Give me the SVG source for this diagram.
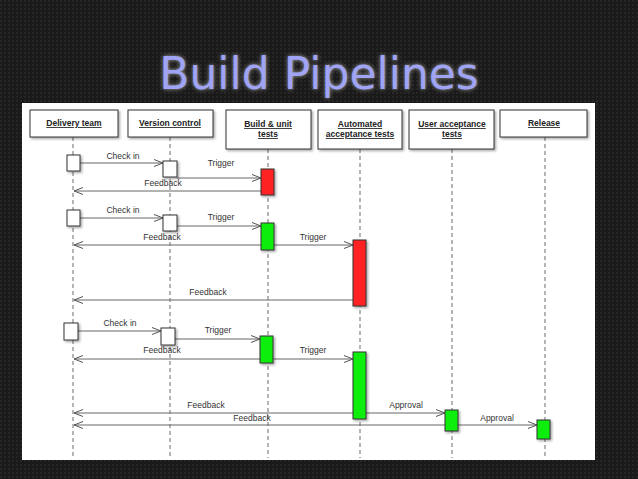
<svg xmlns="http://www.w3.org/2000/svg" width="638" height="479" viewBox="0 0 638 479">
<defs>
<pattern id="bg" width="4" height="4" patternUnits="userSpaceOnUse"><rect width="4" height="4" fill="#1a1a1a"/><rect width="2" height="2" fill="#262626"/></pattern>
<marker id="ar" markerWidth="10" markerHeight="8" refX="9" refY="4" orient="auto" markerUnits="userSpaceOnUse"><path d="M0,0.5 L9,4 L0,7.5" fill="none" stroke="#555" stroke-width="1"/></marker>
<filter id="glow"><feGaussianBlur stdDeviation="2"/></filter>
<filter id="sh" x="-20%" y="-20%" width="150%" height="150%"><feDropShadow dx="1.5" dy="1.5" stdDeviation="1" flood-color="#000" flood-opacity="0.35"/></filter>
</defs>
<style>
.hd{fill:#fff;stroke:#333;stroke-width:1;filter:url(#sh)}
.ht{font-family:"Liberation Sans",Arial,sans-serif;font-size:8.5px;font-weight:bold;text-decoration:underline;fill:#222;text-anchor:middle}
.ll{stroke:#444;stroke-width:0.8;stroke-dasharray:4,3}
.m{stroke:#666;stroke-width:1;fill:none;marker-end:url(#ar)}
.l{font-family:"Liberation Sans",Arial,sans-serif;font-size:8.5px;fill:#333;text-anchor:middle}
.w{fill:#fff;stroke:#333;stroke-width:1;filter:url(#sh)}
.r{fill:#f22;stroke:#333;stroke-width:1;filter:url(#sh)}
.g{fill:#1e1;stroke:#333;stroke-width:1;filter:url(#sh)}
</style>
<rect width="638" height="479" fill="url(#bg)"/>
<text x="319" y="89" font-family="DejaVu Sans,sans-serif" font-size="44" fill="#ffffff" text-anchor="middle" filter="url(#glow)" opacity="0.6">Build Pipelines</text>
<text x="319" y="89" font-family="DejaVu Sans,sans-serif" font-size="44" fill="#a0a4f4" text-anchor="middle">Build Pipelines</text>
<rect x="22" y="103" width="573" height="357" fill="#fff"/>
<g id="lifelines">
<line class="ll" x1="73" y1="137" x2="73" y2="458"/>
<line class="ll" x1="170" y1="137" x2="170" y2="458"/>
<line class="ll" x1="268" y1="149" x2="268" y2="458"/>
<line class="ll" x1="360" y1="149" x2="360" y2="458"/>
<line class="ll" x1="452" y1="149" x2="452" y2="458"/>
<line class="ll" x1="545" y1="137" x2="545" y2="458"/>
</g>
<g id="delivery"><rect class="hd" x="30" y="110" width="88" height="27"/><text class="ht" x="74" y="126">Delivery team</text></g>
<g id="version"><rect class="hd" x="128" y="110" width="85" height="27"/><text class="ht" x="170" y="126">Version control</text></g>
<g id="build"><rect class="hd" x="226" y="110" width="85" height="39"/><text class="ht" x="268" y="127">Build &amp; unit</text><text class="ht" x="268" y="137">tests</text></g>
<g id="automated"><rect class="hd" x="318" y="110" width="84" height="39"/><text class="ht" x="360" y="127">Automated</text><text class="ht" x="360" y="137">acceptance tests</text></g>
<g id="uat"><rect class="hd" x="409" y="110" width="85" height="39"/><text class="ht" x="452" y="127">User acceptance</text><text class="ht" x="452" y="137">tests</text></g>
<g id="release"><rect class="hd" x="500" y="110" width="87" height="27"/><text class="ht" x="544" y="126">Release</text></g>
<g id="connectors">
<line class="m" x1="80" y1="163" x2="163" y2="163"/>
<line class="m" x1="177" y1="178" x2="261" y2="178"/>
<line class="m" x1="261" y1="191" x2="74" y2="191"/>
<line class="m" x1="80" y1="218" x2="163" y2="218"/>
<line class="m" x1="177" y1="226" x2="261" y2="226"/>
<line class="m" x1="261" y1="245" x2="74" y2="245"/>
<line class="m" x1="274" y1="245" x2="353" y2="245"/>
<line class="m" x1="353" y1="300" x2="74" y2="300"/>
<line class="m" x1="78" y1="331" x2="161" y2="331"/>
<line class="m" x1="175" y1="339" x2="260" y2="339"/>
<line class="m" x1="260" y1="359" x2="74" y2="359"/>
<line class="m" x1="273" y1="359" x2="353" y2="359"/>
<line class="m" x1="353" y1="413" x2="74" y2="413"/>
<line class="m" x1="366" y1="413" x2="445" y2="413"/>
<line class="m" x1="445" y1="425" x2="74" y2="425"/>
<line class="m" x1="458" y1="425" x2="537" y2="425"/>
</g>
<g id="labels">
<text class="l" x="123" y="159">Check in</text>
<text class="l" x="221" y="166">Trigger</text>
<text class="l" x="163" y="186">Feedback</text>
<text class="l" x="123" y="213">Check in</text>
<text class="l" x="221" y="220">Trigger</text>
<text class="l" x="162" y="240">Feedback</text>
<text class="l" x="313" y="240">Trigger</text>
<text class="l" x="208" y="295">Feedback</text>
<text class="l" x="120" y="326">Check in</text>
<text class="l" x="218" y="333">Trigger</text>
<text class="l" x="162" y="353">Feedback</text>
<text class="l" x="313" y="353">Trigger</text>
<text class="l" x="206" y="408">Feedback</text>
<text class="l" x="406" y="408">Approval</text>
<text class="l" x="252" y="421">Feedback</text>
<text class="l" x="497" y="421">Approval</text>
</g>
<g id="activations">
<rect class="w" x="67" y="155" width="13" height="16"/>
<rect class="w" x="163" y="161" width="14" height="16"/>
<rect class="r" x="261" y="169" width="13" height="26"/>
<rect class="w" x="67" y="210" width="13" height="16"/>
<rect class="w" x="163" y="215" width="14" height="16"/>
<rect class="g" x="261" y="223" width="13" height="27"/>
<rect class="r" x="353" y="240" width="13" height="66"/>
<rect class="w" x="64" y="323" width="14" height="17"/>
<rect class="w" x="161" y="328" width="14" height="17"/>
<rect class="g" x="260" y="336" width="13" height="27"/>
<rect class="g" x="353" y="352" width="13" height="67"/>
<rect class="g" x="445" y="410" width="13" height="21"/>
<rect class="g" x="537" y="420" width="13" height="19"/>
</g>
</svg>
